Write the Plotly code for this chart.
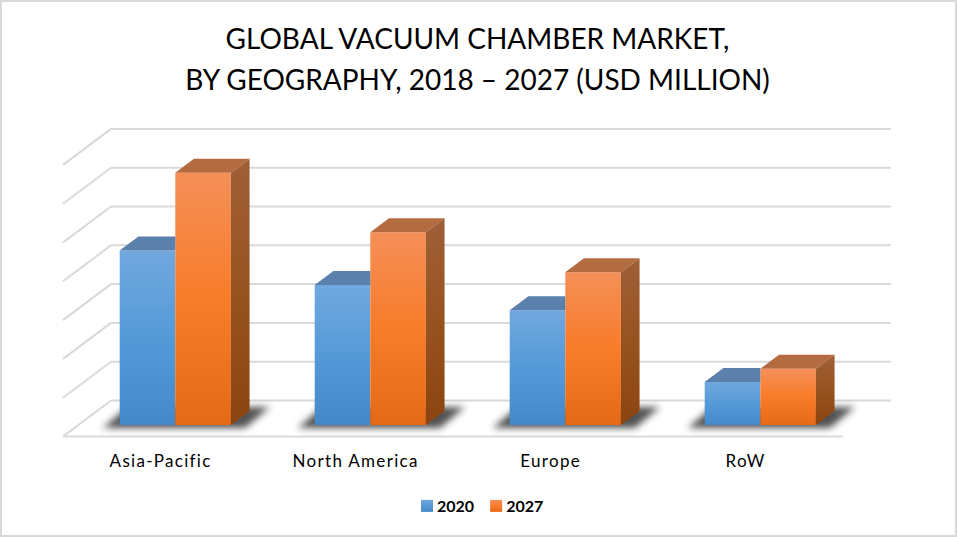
import plotly.graph_objects as go

categories = ["Asia-Pacific", "North America", "Europe", "RoW"]
series_names = ["2020", "2027"]
values_2020 = [450, 361, 296, 111]
values_2027 = [650, 497, 394, 145]
grid_levels = [0, 100, 200, 300, 400, 500, 600, 700]

W, H = 957, 537
PX_PER_CAT = 195.0
PX_PER_VAL = 0.388
CAT0_PX = 175.3
ZERO_PX = 425.0
L, R, T, B = 60, 895, 125, 440
WALL_X = 48 / PX_PER_CAT
WALL_Y = 36 / PX_PER_VAL
BAR_FRONT = 11 / 36
BAR_DEPTH = 14 / 36
BAR_W = 55.6 / PX_PER_CAT
BACK_ZERO = (ZERO_PX - 400.5) / PX_PER_VAL
GRID_X0 = (111 - CAT0_PX) / PX_PER_CAT
GRID_X1 = (891 - CAT0_PX) / PX_PER_CAT
GRID_COL = "#d9d9d9"

shapes = []
for lv in grid_levels:
    y = BACK_ZERO + lv
    shapes.append(dict(type="line", layer="below", x0=GRID_X0, x1=GRID_X1, y0=y, y1=y,
                       line=dict(color=GRID_COL, width=2)))
    shapes.append(dict(type="line", layer="below", x0=GRID_X0 - WALL_X, x1=GRID_X0, y0=y - WALL_Y, y1=y,
                       line=dict(color=GRID_COL, width=2)))
shapes.append(dict(type="line", layer="below", x0=GRID_X0 - WALL_X, x1=GRID_X1 - WALL_X,
                   y0=BACK_ZERO - WALL_Y, y1=BACK_ZERO - WALL_Y, line=dict(color=GRID_COL, width=2)))

fig = go.Figure()
fig.add_bar(name=series_names[0], x=list(range(4)), y=values_2020, marker=dict(color="#5b9bd5", line_width=0),
            hoverinfo="skip")
fig.add_bar(name=series_names[1], x=list(range(4)), y=values_2027, marker=dict(color="#f5822e", line_width=0),
            hoverinfo="skip")

dx, dy = BAR_DEPTH * WALL_X, BAR_DEPTH * WALL_Y


def face(xs, ys, color):
    fig.add_scatter(x=xs + xs[:1], y=ys + ys[:1], mode="lines", fill="toself", fillcolor=color,
                    line=dict(width=0), showlegend=False, hoverinfo="skip")


for i, (a, b) in enumerate(zip(values_2020, values_2027)):
    x0, xm, x1 = i - BAR_W, i, i + BAR_W
    face([x0, x0 + dx, xm, xm], [a, a + dy, a + dy, a], "rgb(90,128,171)")
    face([xm, xm + dx, x1 + dx, x1], [b, b + dy, b + dy, b], "rgb(181,107,64)")
    face([x1, x1 + dx, x1 + dx, x1], [0, dy, b + dy, b], "rgb(160,92,51)")
    sx0, sx1 = x0 - 17 / PX_PER_CAT, x1 + 14 / PX_PER_CAT
    sh = 3 / PX_PER_VAL
    sd = 21 / PX_PER_VAL
    sk = 25 / PX_PER_CAT
    shapes.append(dict(type="path", layer="below", fillcolor="rgb(40,40,40)", line=dict(width=0),
                       opacity=0.8,
                       path=f"M{sx0},{-sh} L{sx1},{-sh} L{sx1 + sk},{sd - sh} L{sx0 + sk},{sd - sh} Z"))

# picture frame
shapes.append(dict(type="rect", layer="above", xref="paper", yref="paper",
                   x0=(1 - L) / (R - L), x1=(956 - L) / (R - L),
                   y0=(B - 536) / (B - T), y1=(B - 1) / (B - T),
                   line=dict(color="#d9d9d9", width=2)))

fig.update_layout(
    width=W, height=H, margin=dict(l=L, r=W - R, t=T, b=H - B),
    paper_bgcolor="white", plot_bgcolor="rgba(0,0,0,0)",
    barmode="group", bargap=1 - 2 * BAR_W, bargroupgap=0,
    font=dict(family="Lato", color="black"),
    title=dict(text="GLOBAL VACUUM CHAMBER MARKET,<br>BY GEOGRAPHY, 2018 – 2027 (USD MILLION)",
               x=0.5, xref="paper", xanchor="center", y=1 - 49 / H, yanchor="middle",
               font=dict(family="Lato", size=28, color="black")),
    xaxis=dict(range=[(L - CAT0_PX) / PX_PER_CAT, (R - CAT0_PX) / PX_PER_CAT],
               tickvals=[i - BAR_FRONT * WALL_X for i in range(4)], ticktext=categories,
               showgrid=False, zeroline=False, showline=False, ticks="", ticklabelstandoff=9,
               tickfont=dict(family="Lato", size=17, color="black")),
    yaxis=dict(range=[(ZERO_PX - B) / PX_PER_VAL, (ZERO_PX - T) / PX_PER_VAL],
               showgrid=False, zeroline=False, showline=False, showticklabels=False, ticks=""),
    legend=dict(orientation="h", x=0.5 + 2 / (R - L), xanchor="center", y=(B - 506) / (B - T), yanchor="middle",
                font=dict(family="Lato", size=16, color="black", weight="bold"), itemwidth=30, traceorder="normal"),
    shapes=shapes,
)

post = r"""
document.body.style.margin = '0';
var svg = document.querySelector('svg.main-svg');
var NS = 'http://www.w3.org/2000/svg';
var defs = svg.querySelector('defs') || svg.appendChild(document.createElementNS(NS, 'defs'));
function grad(id, stops) {
  var g = document.createElementNS(NS, 'linearGradient');
  g.setAttribute('id', id); g.setAttribute('x1', '0'); g.setAttribute('y1', '0');
  g.setAttribute('x2', '0'); g.setAttribute('y2', '1');
  stops.forEach(function (s) {
    var e = document.createElementNS(NS, 'stop');
    e.setAttribute('offset', s[0]); e.setAttribute('stop-color', s[1]); g.appendChild(e);
  });
  defs.appendChild(g);
}
grad('gBlue', [[0, '#70a8de'], [0.5, '#559ad8'], [1, '#4488c8']]);
grad('gOrange', [[0, '#f58f58'], [0.5, '#f87c2a'], [1, '#e56a17']]);
grad('gSide', [[0, '#a05f38'], [0.5, '#97531f'], [1, '#8c4410']]);
var f = document.createElementNS(NS, 'filter');
f.setAttribute('id', 'fBlur');
['x', 'y'].forEach(function (a) { f.setAttribute(a, '-40%'); });
['width', 'height'].forEach(function (a) { f.setAttribute(a, '180%'); });
var b = document.createElementNS(NS, 'feGaussianBlur');
b.setAttribute('stdDeviation', '3.5');
f.appendChild(b); defs.appendChild(f);
document.querySelectorAll('.barlayer .trace').forEach(function (t, i) {
  t.querySelectorAll('path').forEach(function (p) { p.style.fill = i ? 'url(#gOrange)' : 'url(#gBlue)'; });
});
document.querySelectorAll('.legend .traces').forEach(function (t, i) {
  t.querySelectorAll('.legendbar path, .legendpoints path').forEach(function (p) {
    p.style.fill = i ? 'url(#gOrange)' : 'url(#gBlue)';
  });
  var lp = t.querySelector('.legendpoints');
  if (lp) lp.setAttribute('transform', 'translate(10,0) ' + (lp.getAttribute('transform') || ''));
  if (i) t.setAttribute('transform', 'translate(-13,0) ' + (t.getAttribute('transform') || ''));
});
document.querySelectorAll('.scatterlayer .js-fill').forEach(function (p) {
  if (p.style.fill.replace(/ /g, '') === 'rgb(160,92,51)') p.style.fill = 'url(#gSide)';
});
document.querySelectorAll('.shapelayer path').forEach(function (p) {
  if (p.style.fill.replace(/ /g, '') === 'rgb(40,40,40)') p.setAttribute('filter', 'url(#fBlur)');
});
document.querySelectorAll('.xtick text').forEach(function (t) { t.style.letterSpacing = '1.3px'; });
var lines = document.querySelectorAll('.gtitle tspan.line');
if (lines.length > 1) {
  lines[1].setAttribute('dy', '41px');
  lines[1].removeAttribute('y');
}
"""
fig.write_html("out.html", post_script=post, config={"displayModeBar": False})
